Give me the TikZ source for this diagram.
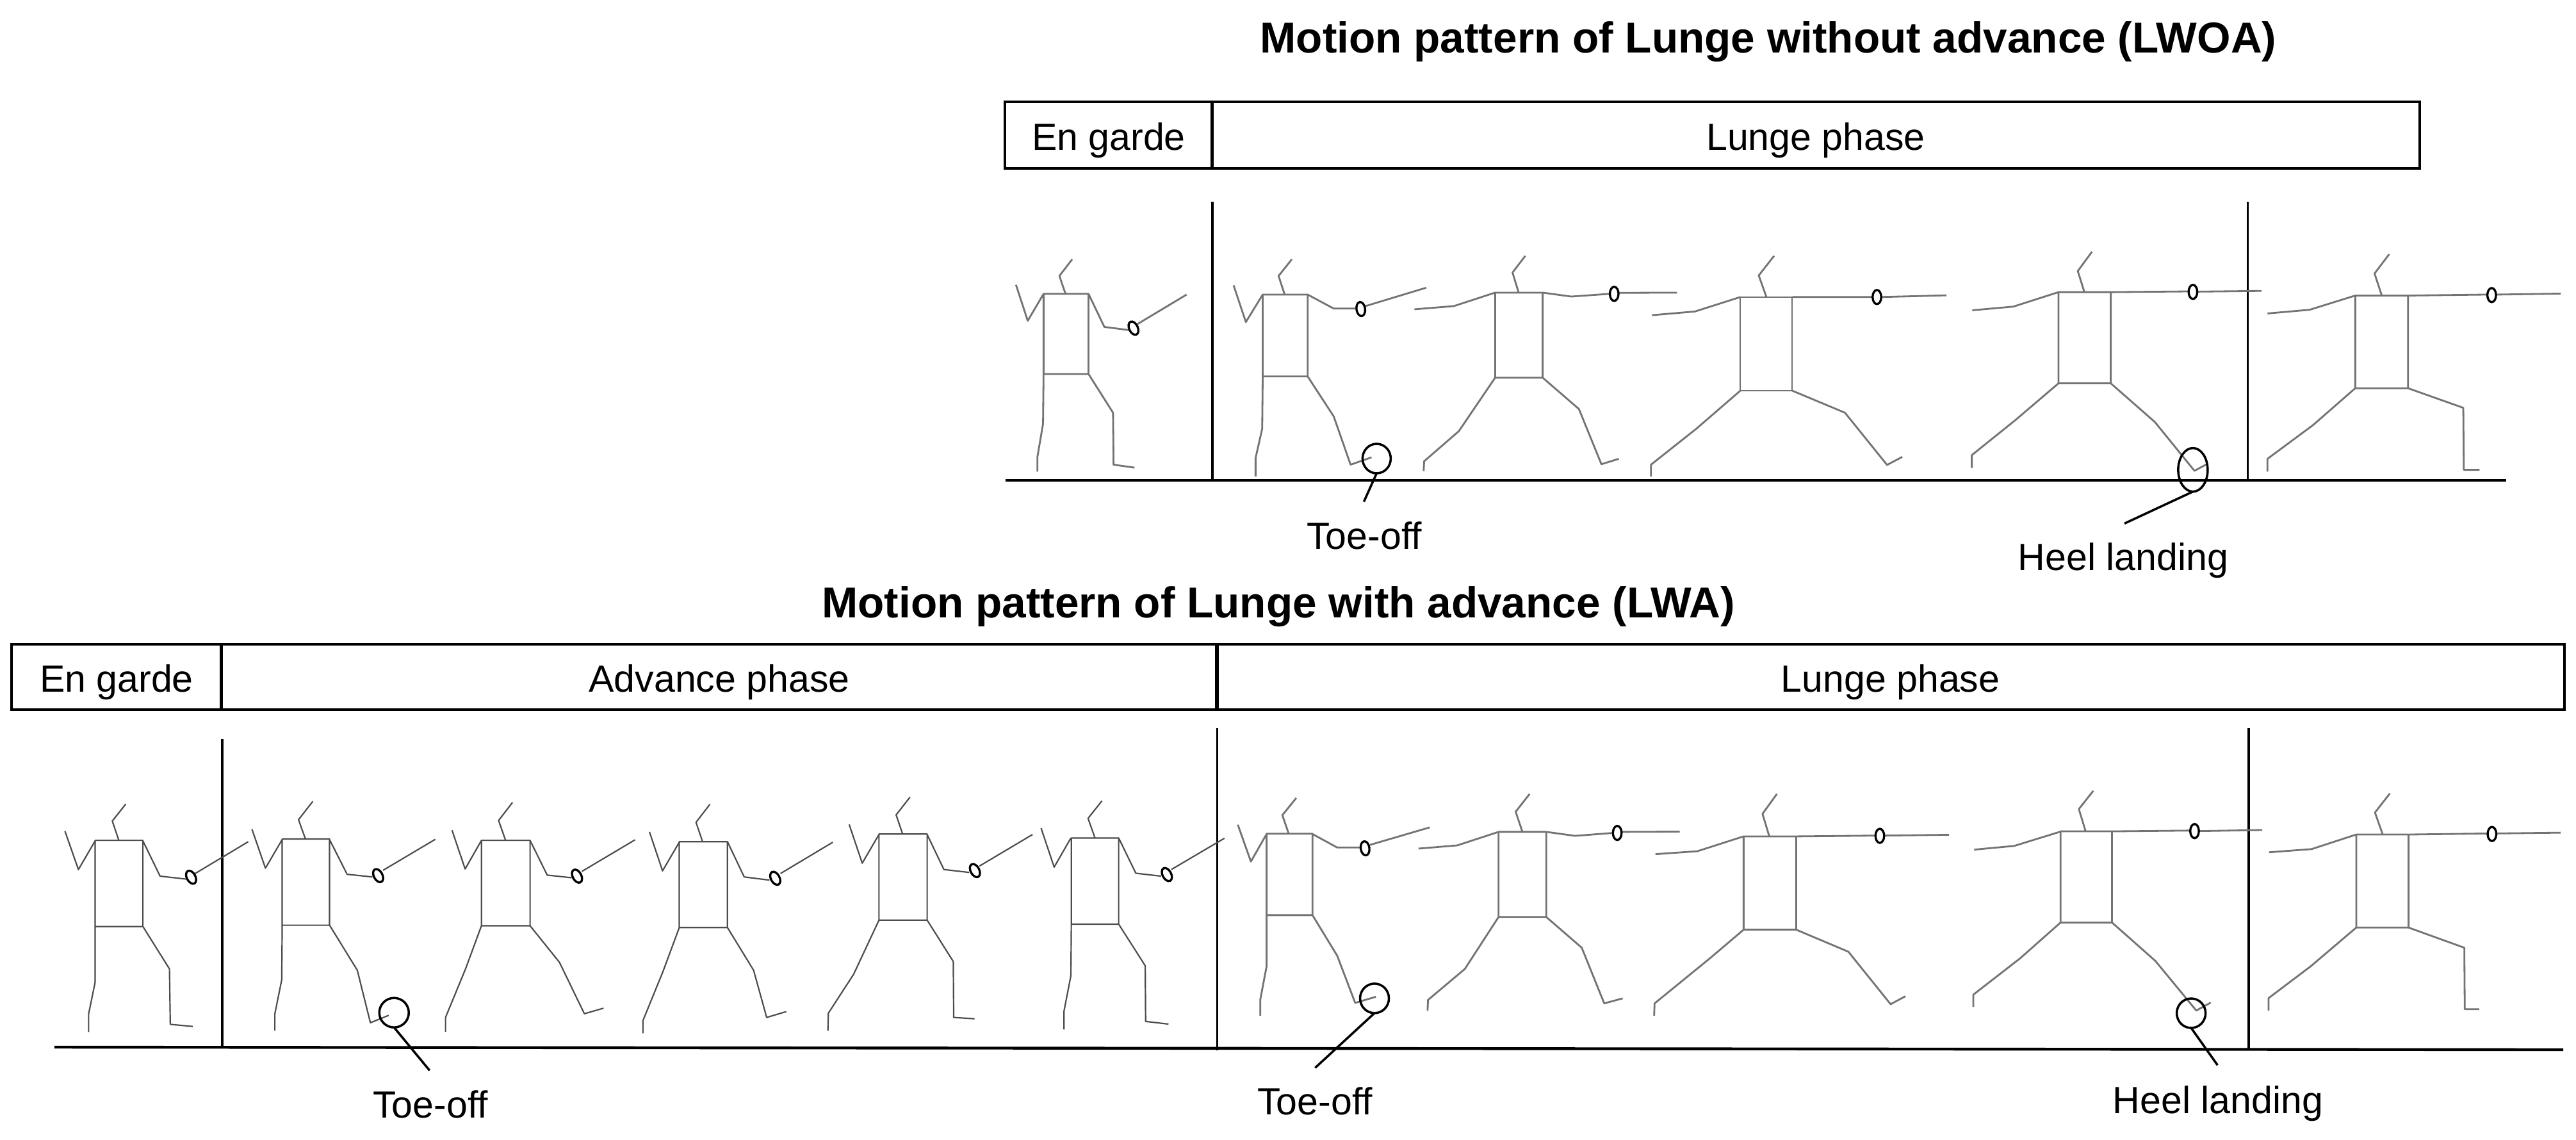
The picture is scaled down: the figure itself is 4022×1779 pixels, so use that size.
\documentclass[tikz,border=0pt]{standalone}
\usepackage{fontspec}
\setmainfont{Liberation Sans}
\usetikzlibrary{shapes.geometric}
\tikzset{
  crop/.style n args={4}{shift={(#1,#2)},x={0.01cm/#3},y={-0.01cm/#4}},
  limb/.style={draw=black!70,line width=0.62pt,line join=round},
  limbg/.style={draw=black!55,line width=0.8pt,line join=round},
  rule/.style={draw=black,line width=1.25pt},
  post/.style={draw=black,line width=1pt},
  box/.style={draw=black,line width=1.15pt,inner sep=0pt,outer sep=0pt,minimum height=1.03cm,
    text height=0.57cm,text depth=0.10cm,font=\fontsize{16.8}{20}\selectfont},
  title/.style={anchor=base,inner sep=0pt,font=\fontsize{19.2}{23}\selectfont\bfseries},
  lab/.style={anchor=base,inner sep=0pt,font=\fontsize{16.8}{20}\selectfont},
  callout/.style={draw=black,line width=1pt,ellipse,inner sep=0pt,outer sep=0pt},
  lead/.style={draw=black,line width=1pt},
  hando/.style={draw=black,line width=0.95pt,ellipse,inner sep=0pt,outer sep=0pt,minimum width=0.135cm,minimum height=0.22cm},
}
\newcommand{\hnd}[4]{\node[hando,rotate=#4] (#1) at (#2,#3) {};}
\begin{document}
\begin{tikzpicture}[x=0.01cm,y=-0.01cm]
\useasboundingbox (0,0) rectangle (4022,1779);
\fill[white] (0,0) rectangle (4022,1779);

% titles and phase bars
\node[title] (tTop) at (2761,83) {Motion pattern of Lunge without advance (LWOA)};
\node[title] (tBot) at (1996,964) {Motion pattern of Lunge with advance (LWA)};
\node[box,minimum width=18.84cm] (bTL) at (2835,211) {Lunge phase};
\node[box,minimum width=3.24cm] (bTE) at (1731,211) {En garde};
\node[box,minimum width=3.275cm,minimum height=1.02cm] (bBE) at (182,1056.7) {En garde};
\node[box,minimum width=15.545cm,minimum height=1.02cm] (bBA) at (1123,1056.7) {Advance phase};
\node[box,minimum width=21.03cm,minimum height=1.02cm] (bBL) at (2951.5,1056.7) {Lunge phase};

% ground lines and dividers
\coordinate (gTa) at (1570,750); \coordinate (gTb) at (3913,750);
\coordinate (gBa) at (85,1635);  \coordinate (gBb) at (4002,1639);
\draw[rule] (gTa) -- (gTb);
\draw[rule] (gBa) -- (gBb);
\coordinate (vT1a) at (1893,315); \coordinate (vT1b) at (1893,750);
\coordinate (vT2a) at (3509.5,315); \coordinate (vT2b) at (3509.5,750);
\coordinate (vB1a) at (347,1154); \coordinate (vB1b) at (347,1635);
\coordinate (vB2a) at (1900.5,1137); \coordinate (vB2b) at (1900.5,1640);
\coordinate (vB3a) at (3511,1137); \coordinate (vB3b) at (3511,1638);
\draw[post] (vT1a) -- (vT1b);
\draw[post] (vT2a) -- (vT2b);
\draw[post] (vB1a) -- (vB1b);
\draw[post] (vB2a) -- (vB2b);
\draw[post] (vB3a) -- (vB3b);

% figure spanning two crops
\draw[limbg] (2717,464) rectangle (2798,610);

% ---- top row, left part
\begin{scope}[crop={1540}{300}{1.254}{2.613}]
\draw[limbg] (155,415)--(143,342)--(168,274) (58,378)--(81,525)--(112,415)
  (112,415) rectangle (200,742) (200,415)--(231,550)--(280,563) (296,538)--(392,418)
  (112,742)--(111,945)--(100,1080)--(100,1140) (200,742)--(248,900)--(249,1112)--(290,1124);
\hnd{hA1}{288}{555}{25}
\draw[limbg] (584,418)--(572,342)--(598,274) (484,380)--(508,530)--(541,418)
  (541,418) rectangle (629,752) (629,418)--(680,475)--(724,475) (742,465)--(861,390)
  (541,752)--(540,965)--(527,1085)--(527,1160) (629,752)--(680,915)--(713,1112)--(754,1082);
\hnd{hA2}{733}{477}{8}
\node[callout,minimum width=0.44cm,minimum height=0.46cm] (cA2) at (764,1087) {};
\coordinate (eA2) at (739,1263);
\draw[lead] (cA2.south) -- (eA2);
\draw[limbg] (1042,410)--(1030,328)--(1055,260) (838,478)--(915,465)--(996,410)
  (996,410) rectangle (1089,757) (1089,410)--(1145,426)--(1220,415) (1237,411)--(1352,410)
  (996,757)--(925,975)--(857,1098)--(856,1138) (1089,757)--(1160,885)--(1204,1110)--(1238,1088);
\hnd{hA3}{1229}{415}{0}
\draw[limbg] (1527,428)--(1512,340)--(1542,260) (1303,502)--(1387,487)--(1476,428)
  (1476,810)--(1390,965)--(1301,1112)--(1301,1160);
\end{scope}

% ---- top row, right part
\begin{scope}[crop={2780}{300}{1.2625}{2.613}]
\draw[limbg] (23,428)--(181,428) (199,428)--(327,421) (23,810)--(127,900)--(210,1113)--(240,1080);
\hnd{hA4}{190}{428}{0}
\draw[limbg] (599,408)--(586,322)--(614,243) (378,482)--(459,467)--(548,408)
  (548,408) rectangle (651,780) (651,408)--(805,405) (822,406)--(948,403)
  (548,780)--(463,930)--(377,1073)--(377,1125) (651,780)--(738,938)--(816,1137)--(840,1110);
\hnd{hA5}{813}{407}{0}
\node[callout,minimum width=0.46cm,minimum height=0.68cm] (cA5) at (813,1133) {};
\coordinate (eA5) at (678,1352);
\draw[lead] (cA5.south) -- (eA5);
\draw[limbg] (1185,420)--(1171,332)--(1200,253) (960,495)--(1043,480)--(1133,422)
  (1133,422) rectangle (1237,800) (1237,422)--(1393,418) (1411,418)--(1538,414)
  (1133,800)--(1050,950)--(960,1088)--(960,1140) (1237,800)--(1346,880)--(1347,1133)--(1378,1133);
\hnd{hA6}{1402}{420}{0}
\end{scope}

% ---- bottom row, crop 1
\begin{scope}[crop={0}{1130}{1.568}{2.416}]
\draw[limb] (291,440)--(275,367)--(308,303) (159,405)--(192,550)--(233,442)
  (233,440) rectangle (350,765) (350,442)--(392,575)--(455,586) (478,565)--(608,445)
  (233,765)--(233,975)--(217,1095)--(217,1163) (350,765)--(415,925)--(417,1134)--(472,1142);
\hnd{hB1}{468}{579}{28}
\draw[limb] (748,435)--(731,362)--(766,293) (617,398)--(650,545)--(691,437)
  (691,435) rectangle (807,760) (807,437)--(850,568)--(912,578) (938,553)--(1066,436)
  (691,760)--(690,965)--(673,1095)--(673,1158) (807,760)--(875,930)--(907,1128)--(952,1100);
\hnd{hB2}{926}{573}{28}
\node[callout,minimum width=0.46cm,minimum height=0.46cm] (cB2) at (965,1090) {};
\coordinate (eB2) at (1052,1308);
\draw[lead] (cB2.south) -- (eB2);
\draw[limb] (1238,440)--(1221,365)--(1255,297) (1107,402)--(1139,548)--(1179,440)
  (1179,440) rectangle (1298,762) (1298,440)--(1340,571)--(1400,581) (1425,557)--(1555,438)
  (1179,762)--(1140,925)--(1091,1108)--(1091,1162) (1298,762)--(1370,900)--(1431,1094)--(1478,1073);
\hnd{hB3}{1413}{575}{28}
\end{scope}

% ---- bottom row, crop 2
\begin{scope}[crop={1000}{1130}{1.568}{2.416}]
\draw[limb] (152,445)--(136,372)--(170,304) (22,408)--(54,555)--(95,447)
  (95,445) rectangle (213,769) (213,445)--(254,578)--(316,590) (343,565)--(471,447)
  (95,769)--(55,935)--(6,1120)--(6,1168) (213,769)--(277,930)--(309,1108)--(357,1086);
\hnd{hB4}{330}{583}{28}
\draw[limb] (642,416)--(626,344)--(660,277) (511,380)--(543,526)--(584,418)
  (584,416) rectangle (702,741) (702,418)--(743,550)--(805,561) (830,537)--(960,418)
  (584,741)--(522,945)--(460,1092)--(459,1158) (702,741)--(766,897)--(767,1108)--(818,1113);
\hnd{hB5}{819}{554}{28}
\draw[limb] (1113,431)--(1096,357)--(1130,291) (981,394)--(1013,541)--(1054,431)
  (1055,431) rectangle (1171,756) (1171,431)--(1213,564)--(1275,575) (1300,550)--(1430,432)
  (1055,756)--(1054,950)--(1037,1085)--(1037,1153) (1171,756)--(1236,913)--(1237,1123)--(1293,1133);
\hnd{hB6}{1289}{569}{28}
\end{scope}

% ---- bottom row, crop 3
\begin{scope}[crop={1880}{1130}{1.425}{2.416}]
\draw[limbg] (188,414)--(174,345)--(205,280) (75,381)--(104,520)--(139,416)
  (139,415) rectangle (241,722) (241,416)--(296,467)--(347,467) (369,457)--(502,391)
  (139,722)--(139,915)--(125,1040)--(125,1102) (241,722)--(296,875)--(336,1053)--(382,1030);
\hnd{hB7}{358}{470}{8}
\node[callout,minimum width=0.45cm,minimum height=0.46cm] (cB7) at (379,1036) {};
\coordinate (eB7) at (247,1298);
\draw[lead] (cB7.south) -- (eB7);
\draw[limbg] (708,408)--(693,332)--(724,265) (477,471)--(563,459)--(655,408)
  (655,408) rectangle (761,729) (761,408)--(825,423)--(910,412) (929,408)--(1058,407)
  (655,729)--(580,925)--(498,1042)--(497,1082) (761,729)--(840,845)--(890,1055)--(931,1036);
\hnd{hB8}{919}{412}{0}
\draw[limbg] (1257,424)--(1242,340)--(1274,265) (1004,492)--(1097,481)--(1200,425)
  (1200,425) rectangle (1317,777) (1317,425)--(1494,422) (1512,422)--(1657,419)
  (1200,777)--(1125,885)--(1002,1055)--(1001,1102) (1317,777)--(1433,860)--(1527,1058)--(1560,1028);
\hnd{hB9}{1503}{423}{0}
\end{scope}

% ---- bottom row, crop 4
\begin{scope}[crop={2980}{1130}{1.505}{2.416}]
\draw[limbg] (416,406)--(400,322)--(434,253) (154,475)--(248,461)--(357,407)
  (357,406) rectangle (478,750) (478,406)--(663,403) (682,405)--(831,401)
  (357,750)--(262,885)--(152,1022)--(152,1068) (478,750)--(580,895)--(676,1082)--(710,1052);
\hnd{hB10}{672}{405}{0}
\node[callout,minimum width=0.45cm,minimum height=0.46cm] (cB10) at (664,1092) {};
\coordinate (eB10) at (726,1288);
\draw[lead] (cB10.south) -- (eB10);
\draw[limbg] (1114,417)--(1096,335)--(1131,263) (847,485)--(947,473)--(1052,418)
  (1052,418) rectangle (1175,769) (1175,418)--(1362,414) (1381,414)--(1532,411)
  (1052,769)--(945,915)--(846,1035)--(846,1082) (1175,769)--(1306,845)--(1307,1077)--(1341,1077);
\hnd{hB11}{1371}{416}{0}
\end{scope}

% labels
\node[lab] (lA2) at (2130,857) {Toe-off};
\node[lab] (lA5) at (3315,890) {Heel landing};
\node[lab] (lB2) at (672,1745) {Toe-off};
\node[lab] (lB7) at (2053,1740) {Toe-off};
\node[lab] (lB10) at (3463,1738) {Heel landing};
\end{tikzpicture}
\end{document}
